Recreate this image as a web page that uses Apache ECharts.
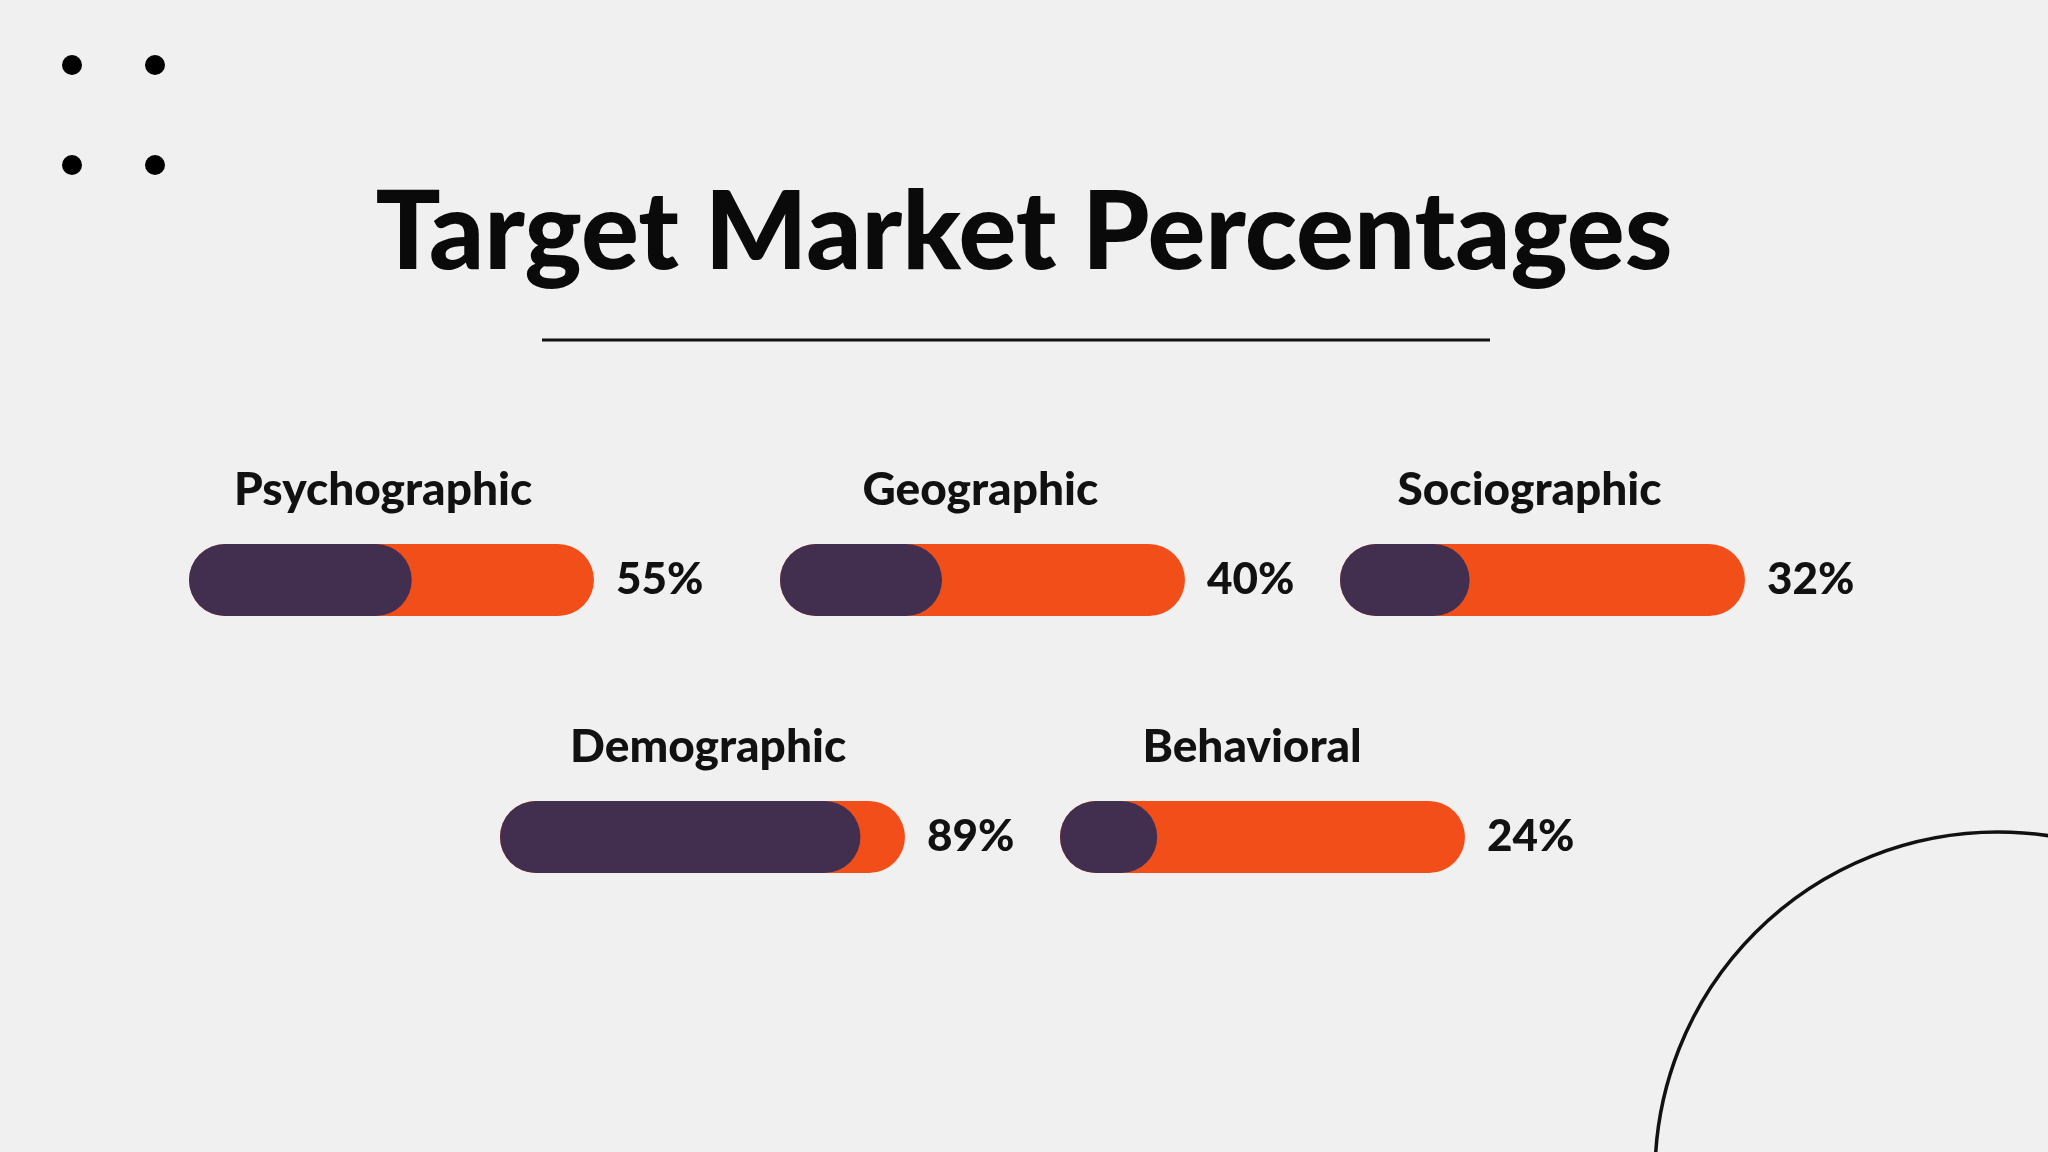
<!DOCTYPE html>
<html><head><meta charset="utf-8">
<script src="https://cdn.jsdelivr.net/npm/echarts@6/dist/echarts.min.js"></script>
<style>html,body{margin:0;padding:0;background:#f0f0f0}#c{width:2048px;height:1152px}</style>
</head><body><div id="c"></div>
<script>
const categories = ["Psychographic","Geographic","Sociographic","Demographic","Behavioral"];
const values = [55,40,32,89,24];
const layout = [ // left, center-y of bar
  [189,580],[780,580],[1340,580],[500,837],[1060,837]
];
const BW = 405, BH = 72;
const FONT = "Lato";
const grids=[],xAxes=[],yAxes=[],series=[],titles=[];
categories.forEach((c,i)=>{
  const [l,cy]=layout[i];
  grids.push({left:l,top:cy-BH/2,width:BW,height:BH});
  xAxes.push({gridIndex:i,type:'value',min:0,max:100,show:false});
  yAxes.push({gridIndex:i,type:'category',data:[c],show:false});
  series.push({type:'bar',xAxisIndex:i,yAxisIndex:i,data:[100],barWidth:BH,barGap:'-100%',silent:true,
    itemStyle:{color:'#F24E1A',borderRadius:BH/2},
    label:{show:true,position:'right',distance:22,formatter:()=>values[i]+'%',color:'#111',fontFamily:FONT,fontWeight:900,fontSize:44}});
  series.push({type:'bar',xAxisIndex:i,yAxisIndex:i,data:[values[i]],barWidth:BH,silent:true,z:3,
    itemStyle:{color:'#422F50',borderRadius:BH/2}});
  titles.push({text:c,left:l+BW/2-(c.length*12.5),top:cy-118,textStyle:{fontFamily:FONT,fontWeight:900,fontSize:46,color:'#111'}});
});
const graphic=[
  {type:'text',left:'center',top:180,style:{text:'Target Market Percentages',font:'900 108px Lato',fill:'#0a0a0a'}},
  {type:'line',shape:{x1:542,y1:340,x2:1490,y2:340},style:{stroke:'#111',lineWidth:3}},
  {type:'circle',shape:{cx:1998,cy:1175,r:343},style:{fill:'none',stroke:'#111',lineWidth:3.5}}
];
[[72,65],[155,65],[72,165],[155,165]].forEach(([x,y])=>graphic.push({type:'circle',shape:{cx:x,cy:y,r:10},style:{fill:'#000'}}));
const ch=echarts.init(document.getElementById('c'));
ch.setOption({backgroundColor:'#f0f0f0',animation:false,title:titles,grid:grids,xAxis:xAxes,yAxis:yAxes,series,graphic});
// center titles precisely
const opt=ch.getOption();
</script></body></html>
